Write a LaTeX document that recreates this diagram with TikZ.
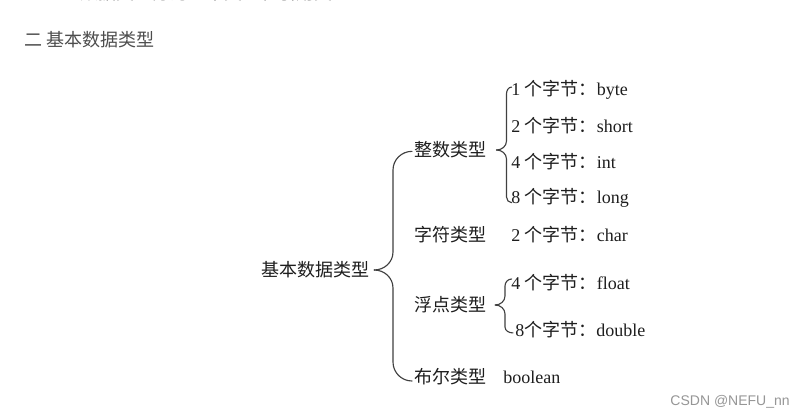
\documentclass[tikz,border=0pt]{standalone}
\usepackage{fontspec}
\setmainfont{Liberation Serif}
\newfontfamily\cjk{Noto Sans CJK SC}
\newfontfamily\marksans{Liberation Sans}
\usetikzlibrary{positioning}
\definecolor{pgText}{RGB}{77,77,77}
\definecolor{scanInk}{RGB}{30,30,30}
\definecolor{markGray}{RGB}{150,150,150}
\newcommand{\zh}[1]{{\cjk #1}}

\begin{document}
\begin{tikzpicture}[x=0.75pt,y=-0.75pt,
  font=\fontsize{13.5}{16}\selectfont,
  cat/.style={inner sep=0pt, anchor=west, text=scanInk},
  leaf/.style={inner sep=0pt, anchor=west, text=scanInk},
  pg/.style={inner sep=0pt, anchor=west, text=pgText, font=\cjk\fontsize{13.5}{16}\selectfont},
  br/.style={draw=scanInk!85, line width=0.85pt, line cap=round}
]
\useasboundingbox (0,0) rectangle (808,417);
\fill[white] (0,0) rectangle (808,417);
% page text
\node[pg] (cut) at (80,-7.5) {数据类型分为基本类型和引用类型};
\node[pg] (title) at (24,40) {二 基本数据类型};
% tree
\node[cat] (root) at (261,270) {\zh{基本数据类型}};
\node[cat] (int) at (414,150) {\zh{整数类型}};
\node[cat] (chr) at (414,235) {\zh{字符类型}};
\node[cat] (flt) at (414,305) {\zh{浮点类型}};
\node[cat] (bool) at (414,377) {\zh{布尔类型}};
\foreach \i/\t/\y in {1/byte/90, 2/short/126, 4/int/162, 8/long/198}
  \node[leaf] (i\i) at (511,\y) {\i\ \zh{个字节：}\t};
\node[leaf] (c2) at (511,235) {2 \zh{个字节：}char};
\node[leaf] (f4) at (511,283) {4 \zh{个字节：}float};
\node[leaf] (f8) at (515,330) {8\zh{个字节：}double};
\node[leaf] (b1) at (503,377) {boolean};
% braces
\draw[br] ([xshift=3.5pt]root.east) to[out=0,in=-90] (393,252) -- (393,170)
  to[out=90,in=180] ([xshift=-1.5pt,yshift=-1pt]int.west);
\draw[br] ([xshift=3.5pt]root.east) to[out=0,in=90] (393,288) -- (393,362)
  to[out=-90,in=180] ([xshift=-1.5pt,yshift=-3pt]bool.west);
\draw[br] ([xshift=7.5pt]int.east) to[out=0,in=-90] (506.5,141) -- (506.5,94)
  to[out=90,in=180] ([xshift=0.5pt,yshift=2.2pt]i1.west);
\draw[br] ([xshift=7.5pt]int.east) to[out=0,in=90] (506.5,159) -- (506.5,197)
  to[out=-90,in=180] ([xshift=0.5pt,yshift=-3.5pt]i8.west);
\draw[br] ([xshift=6.5pt]flt.east) to[out=0,in=-90] (505,296) -- (505,286)
  to[out=90,in=180] ([xshift=0.5pt,yshift=3pt]f4.west);
\draw[br] ([xshift=6.5pt]flt.east) to[out=0,in=90] (505,314) -- (505,327)
  to[out=-90,in=180] ([xshift=-1.5pt,yshift=-2.2pt]f8.west);
% watermark
\node[inner sep=0pt, anchor=east, text=markGray, font=\marksans\fontsize{10.5}{12}\selectfont] (mark) at (790,402) {CSDN @NEFU\_nn};
\end{tikzpicture}
\end{document}
